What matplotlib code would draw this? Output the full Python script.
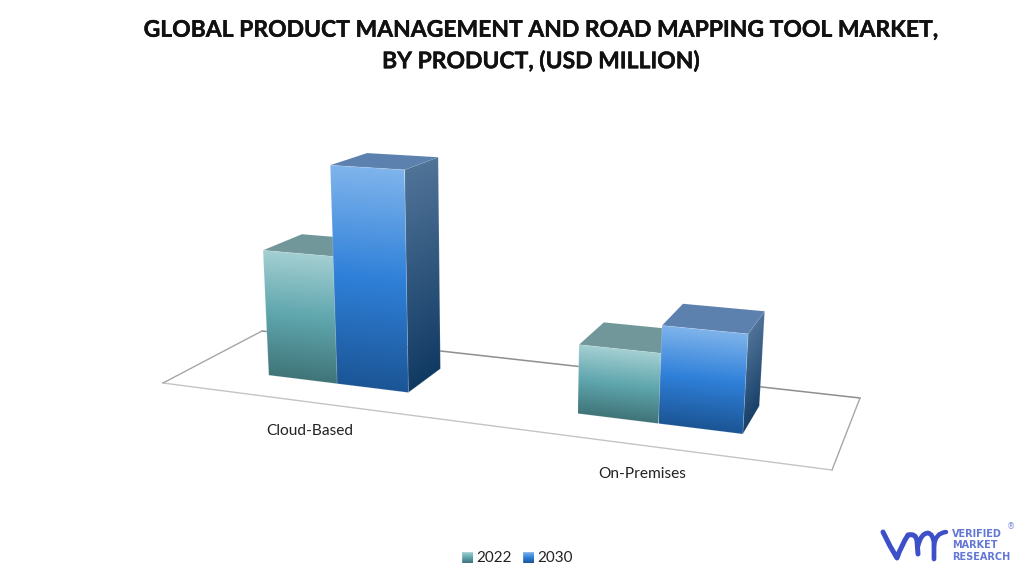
import matplotlib
matplotlib.use("Agg")
import matplotlib.patheffects as pe
import matplotlib.pyplot as plt
import numpy as np
from matplotlib.colors import LinearSegmentedColormap
from matplotlib.patches import PathPatch, Polygon
from matplotlib.path import Path

# chart data (no axis shown so values are in plot units)
categories = ["Cloud-Based", "On-Premises"]
years = ["2022", "2030"]
values_2022 = [127, 64.5]
values_2030 = [218, 90]

title_text = "GLOBAL PRODUCT MANAGEMENT AND ROAD MAPPING TOOL MARKET,\nBY PRODUCT, (USD MILLION)"

# floor of the fake 3d scene, in image pixels: front-left, front-right, back-right, back-left
FLOOR = np.array([[163, 383], [832, 470], [860, 398], [262, 331]], dtype=float)
BAR_WIDTH = 0.118
DEPTH_FRONT = 0.30
DEPTH_BACK = 0.71
LEAN_CENTER = 490
LEAN = 0.00021

teal_front = ["#A3CFD2", "#5FA6AD", "#3F7478"]
blue_front = ["#7FB4EC", "#2F80D9", "#1B5595"]
teal_side = ["#56797C", "#24494C"]
blue_side = ["#507398", "#113A63"]
teal_top = "#72979A"
blue_top = "#5C81AE"


def floor_matrix(corners):
    (x0, y0), (x1, y1), (x2, y2), (x3, y3) = corners
    dx1, dy1 = x1 - x2, y1 - y2
    dx2, dy2 = x3 - x2, y3 - y2
    sx, sy = x0 - x1 + x2 - x3, y0 - y1 + y2 - y3
    den = dx1 * dy2 - dx2 * dy1
    g = (sx * dy2 - dx2 * sy) / den
    h = (dx1 * sy - sx * dy1) / den
    return np.array([
        [x1 - x0 + g * x1, x3 - x0 + h * x3, x0],
        [y1 - y0 + g * y1, y3 - y0 + h * y3, y0],
        [g, h, 1.0],
    ])


MATRIX = floor_matrix(FLOOR)


def project(u, v, z=0.0):
    px, py, w = MATRIX @ np.array([u, v, 1.0])
    x, y = px / w, py / w
    rise = z / w
    return np.array([x + (x - LEAN_CENTER) * LEAN * rise, y - rise])


def gradient_face(ax, quad, colors, zorder):
    # quad = top-left, top-right, bottom-right, bottom-left
    quad = np.array(quad)
    tl, tr, br, bl = quad
    x0, x1 = quad[:, 0].min(), quad[:, 0].max()
    y0, y1 = quad[:, 1].min(), quad[:, 1].max()
    xx, yy = np.meshgrid(np.linspace(x0, x1, 160), np.linspace(y0, y1, 300))
    s = (xx - tl[0]) / (tr[0] - tl[0])
    top = tl[1] + s * (tr[1] - tl[1])
    bottom = bl[1] + s * (br[1] - bl[1])
    t = np.clip((yy - top) / (bottom - top), 0, 1)
    cmap = LinearSegmentedColormap.from_list("face", colors)
    im = ax.imshow(t, cmap=cmap, vmin=0, vmax=1, extent=(x0, x1, y1, y0),
                   aspect="auto", interpolation="bilinear", zorder=zorder)
    im.set_clip_path(Polygon(quad, transform=ax.transData))
    ax.add_patch(Polygon(quad, fill=False, edgecolor="white", alpha=0.18, lw=0.6, zorder=zorder))


def draw_bar(ax, u0, u1, value, front, side, top_color, zorder):
    ftl, ftr = project(u0, DEPTH_FRONT, value), project(u1, DEPTH_FRONT, value)
    fbl, fbr = project(u0, DEPTH_FRONT), project(u1, DEPTH_FRONT)
    btl, btr = project(u0, DEPTH_BACK, value), project(u1, DEPTH_BACK, value)
    bbr = project(u1, DEPTH_BACK)

    gradient_face(ax, [ftr, btr, bbr, fbr], side, zorder)
    ax.add_patch(Polygon([ftl, ftr, btr, btl], facecolor=top_color, edgecolor="none", zorder=zorder + 0.1))
    gradient_face(ax, [ftl, ftr, fbr, fbl], front, zorder + 0.2)


fig = plt.figure(figsize=(10.24, 5.84), dpi=100, facecolor="white")
ax = fig.add_axes([0, 0, 1, 1])
ax.set_xlim(0, 1024)
ax.set_ylim(584, 0)
ax.set_autoscale_on(False)
ax.axis("off")

# floor outline
ax.plot(*zip(FLOOR[3], FLOOR[2]), color="#8F8F8F", lw=1.1, zorder=1)
ax.plot(*zip(FLOOR[2], FLOOR[1]), color="#A6A6A6", lw=1.0, zorder=1)
ax.plot(*zip(FLOOR[1], FLOOR[0]), color="#C4C4C4", lw=1.0, zorder=1)
ax.plot(*zip(FLOOR[0], FLOOR[3]), color="#A6A6A6", lw=1.0, zorder=1)

for i, name in enumerate(categories):
    center = (i + 0.5) / len(categories)
    draw_bar(ax, center - BAR_WIDTH, center, values_2022[i], teal_front, teal_side, teal_top, 3 + i)
    draw_bar(ax, center, center + BAR_WIDTH, values_2030[i], blue_front, blue_side, blue_top, 3.5 + i)
    label_x, label_y = project(center, 0)
    ax.text(label_x, label_y + 29, name, ha="center", va="center",
            fontsize=11.2, family="Lato", color="#222222")

title = ax.text(541, 46, title_text, ha="center", va="center", fontsize=16.5, fontweight="bold",
                family="Lato", color="#111111", linespacing=1.55)
title.set_path_effects([pe.withStroke(linewidth=0.3, foreground="#111111")])

# legend
for (x_box, year, colors) in [(462, years[0], teal_front), (523, years[1], blue_front)]:
    gradient_face(ax, [(x_box, 552), (x_box + 11, 552), (x_box + 11, 563), (x_box, 563)], colors, 5)
    ax.text(x_box + 14, 557.5, year, ha="left", va="center", fontsize=11, family="Lato", color="#222222")

# logo
logo_blue = "#3E50C8"
logo_paths = [
    ([(883, 532), (890, 546), (897, 558), (901, 546), (908, 535), (916, 533), (917, 541), (918, 554)],
     [Path.MOVETO, Path.LINETO, Path.LINETO, Path.CURVE3, Path.CURVE3, Path.CURVE3, Path.CURVE3, Path.LINETO], 3.6),
    ([(918, 546), (921, 533), (928, 533), (933, 534), (934, 543), (934, 559)],
     [Path.MOVETO, Path.CURVE3, Path.CURVE3, Path.CURVE3, Path.CURVE3, Path.LINETO], 3.4),
    ([(934, 546), (935, 533), (946, 532)],
     [Path.MOVETO, Path.CURVE3, Path.CURVE3], 3.2),
]
for verts, codes, width in logo_paths:
    ax.add_patch(PathPatch(Path(verts, codes), fill=False, edgecolor=logo_blue, lw=width,
                           capstyle="round", joinstyle="round", zorder=6))

for y_text, word in zip([534, 545.5, 557], ["VERIFIED", "MARKET", "RESEARCH"]):
    ax.text(952, y_text, word, ha="left", va="center", fontsize=7.0,
            family="DejaVu Sans", fontweight="bold", color="#6377D6")
ax.text(1011, 526.5, "®", ha="center", va="center", fontsize=6, color="#7A88DC")

fig.savefig("out.png", dpi=100, facecolor="white")
plt.close(fig)
